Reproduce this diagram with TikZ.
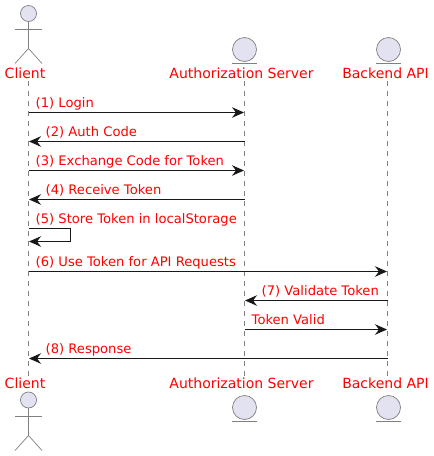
\documentclass[tikz,border=0pt]{standalone}
\usepackage{fontspec}
\setmainfont{DejaVu Sans}
\usetikzlibrary{arrows.meta}
\definecolor{partfill}{HTML}{E2E2F0}
\definecolor{partline}{HTML}{808080}
\definecolor{msgline}{HTML}{181818}
\tikzset{
  x=1pt,y=-1pt,
  lifeline/.style={draw=partline,line width=0.7pt,dash pattern=on 5pt off 5pt},
  figure/.style={draw=partline,line width=0.7pt,fill=partfill},
  limb/.style={draw=partline,line width=0.7pt},
  msg/.style={draw=msgline,line width=0.9pt,-{Stealth[length=12pt,width=10.5pt,inset=4pt]},shorten >=0.5pt},
  partlabel/.style={text=red,font=\fontsize{14}{16}\selectfont,inner sep=0pt,anchor=base},
  msglabel/.style={text=red,font=\fontsize{13.12}{15}\selectfont,inner sep=0pt,anchor=base west},
}
\begin{document}
\begin{tikzpicture}
\useasboundingbox (0,0) rectangle (434,456);
% participant labels
\node[partlabel] (cT) at (25,78) {Client};
\node[partlabel] (aT) at (241.5,78) {Authorization Server};
\node[partlabel] (bT) at (385.5,78) {Backend API};
\node[partlabel] (cB) at (25,388.5) {Client};
\node[partlabel] (aB) at (241.5,388.5) {Authorization Server};
\node[partlabel] (bB) at (385.5,388.5) {Backend API};
% lifeline ends
\coordinate (lc1) at (28.5,81);
\coordinate (lc2) at (28.5,376);
\coordinate (la1) at (244.5,81);
\coordinate (la2) at (244.5,376);
\coordinate (lb1) at (387.5,81);
\coordinate (lb2) at (387.5,376);
\draw[lifeline] (lc1) -- (lc2);
\draw[lifeline] (la1) -- (la2);
\draw[lifeline] (lb1) -- (lb2);
% top actor
\node[figure,circle,minimum size=16pt,inner sep=0pt] (hT) at (28.5,13.5) {};
\coordinate (armLT) at (15,29); \coordinate (armRT) at (42,29);
\coordinate (hipT) at (28.5,48.5); \coordinate (footLT) at (15,63.5); \coordinate (footRT) at (42,63.5);
\draw[limb] (hT) -- (hipT);
\draw[limb] (armLT) -- (armRT);
\draw[limb] (footLT) -- (hipT) -- (footRT);
% bottom actor
\node[figure,circle,minimum size=16pt,inner sep=0pt] (hB) at (28.5,400) {};
\coordinate (armLB) at (15,416); \coordinate (armRB) at (42,416);
\coordinate (hipB) at (28.5,435.5); \coordinate (footLB) at (15,450.5); \coordinate (footRB) at (42,450.5);
\draw[limb] (hB) -- (hipB);
\draw[limb] (armLB) -- (armRB);
\draw[limb] (footLB) -- (hipB) -- (footRB);
% entities
\node[figure,circle,minimum size=24pt,inner sep=0pt] (eAT) at (244.5,49.5) {};
\node[figure,circle,minimum size=24pt,inner sep=0pt] (eBT) at (388.5,49.5) {};
\node[figure,circle,minimum size=24pt,inner sep=0pt] (eAB) at (244.5,407.5) {};
\node[figure,circle,minimum size=24pt,inner sep=0pt] (eBB) at (388.5,407.5) {};
\coordinate (uAT1) at (232,63); \coordinate (uAT2) at (257,63);
\coordinate (uBT1) at (376,63); \coordinate (uBT2) at (401,63);
\coordinate (uAB1) at (232,421.3); \coordinate (uAB2) at (257,421.3);
\coordinate (uBB1) at (376,421.3); \coordinate (uBB2) at (401,421.3);
\draw[limb] (uAT1) -- (uAT2);
\draw[limb] (uBT1) -- (uBT2);
\draw[limb] (uAB1) -- (uAB2);
\draw[limb] (uBB1) -- (uBB2);
% message anchors
\foreach \n/\y in {1/112.5,2/141.5,3/170.5,4/199.5,5/228.5,6/271.5,7/300.5,8/329.5,9/358.5}{
  \coordinate (c\n) at (28.5,\y);
  \coordinate (a\n) at (244.5,\y);
  \coordinate (b\n) at (387.5,\y);
}
\coordinate (s1) at (70.5,228.5);
\coordinate (s2) at (70.5,241.5);
\coordinate (c5b) at (28.5,241.5);
% messages
\draw[msg] (c1) -- (a1);
\draw[msg] (a2) -- (c2);
\draw[msg] (c3) -- (a3);
\draw[msg] (a4) -- (c4);
\draw[msg] (c5) -- (s1) -- (s2) -- (c5b);
\draw[msg] (c6) -- (b6);
\draw[msg] (b7) -- (a7);
\draw[msg] (a8) -- (b8);
\draw[msg] (b9) -- (c9);
% message labels
\node[msglabel] (m1) at (35.5,107.5) {(1) Login};
\node[msglabel] (m2) at (45.5,136.5) {(2) Auth Code};
\node[msglabel] (m3) at (35.5,165.5) {(3) Exchange Code for Token};
\node[msglabel] (m4) at (45.5,194.5) {(4) Receive Token};
\node[msglabel] (m5) at (35.5,223.5) {(5) Store Token in localStorage};
\node[msglabel] (m6) at (35.5,266.5) {(6) Use Token for API Requests};
\node[msglabel] (m7) at (261.5,295.5) {(7) Validate Token};
\node[msglabel] (m8) at (251.5,324.5) {Token Valid};
\node[msglabel] (m9) at (45.5,353.5) {(8) Response};
\end{tikzpicture}
\end{document}
